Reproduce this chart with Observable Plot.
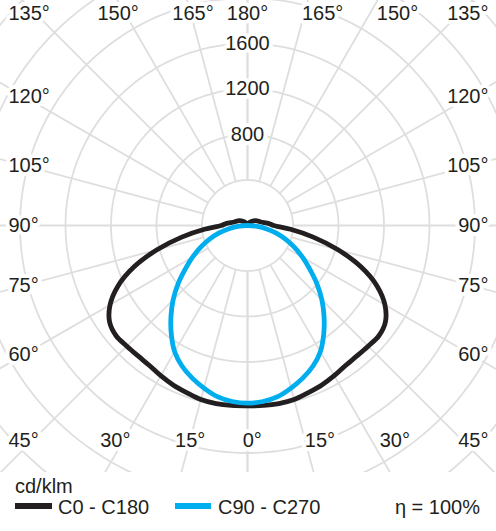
<!DOCTYPE html>
<html><head><meta charset="utf-8">
<script src="https://cdn.jsdelivr.net/npm/d3@7"></script>
<script src="https://cdn.jsdelivr.net/npm/@observablehq/plot@0.6"></script>
<style>
html,body{margin:0;padding:0;background:#fff;}
#wrap{width:496px;}
#wrap svg{display:block;}
</style></head><body><div id="wrap"></div>
<script>
// ---- data (cd/klm), gamma measured from nadir ----
const gammaBlack = [0,5,10,15,20,25,30,35,40,45,50,55,60,65,70,75,80,85,90,95,105,120,135,150,165,180];
const c0c180     = [1585,1588,1590,1584,1564,1547,1525,1503,1497,1500,1508,1480,1395,1256,1061,824,587,380,230,190,120,85,50,25,10,5];
const gammaBlue  = [0,5,10,15,20,25,30,35,40,45,50,55,60,65,70,75,80,85,90];
const c90c270    = [1562,1553,1528,1480,1426,1363,1281,1168,1047,925,797,668,558,456,358,262,172,86,0];
const ringValues = [400,800,1200,1600,2000,2400,2800,3200];
const ringLabels = [800,1200,1600];
const angleLabels = [0,15,30,45,60,75,90,105,120,135,150,165,180];
const seriesNames = ["C0 - C180","C90 - C270"];
const unitLabel = "cd/klm";
const efficiencyLabel = "η = 100%";

// ---- layout ----
const W = 496, H = 472, CX = 247, CY = 225;
const K = 0.11375; // px per cd/klm
const rad = d => d * Math.PI / 180;
const P = (v, g, side) => ({x: side * v * Math.sin(rad(g)), y: -v * Math.cos(rad(g))});

// curves (right half C0 / C90, left half C180 / C270)
function closedPath(gs, vs, name) {
  const pts = gs.map((g, i) => ({...P(vs[i], g, 1), s: name}));
  for (let i = gs.length - 2; i >= 1; i--) pts.push({...P(vs[i], gs[i], -1), s: name});
  return pts;
}
const blackPts = closedPath(gammaBlack, c0c180, seriesNames[0]);
const bluePts = closedPath(gammaBlue, c90c270, seriesNames[1]);

// grid
const ringPts = ringValues.flatMap(v => d3.range(0, 360, 2).map(a => ({...P(v, a, 1), ring: v})));
const spokes = angleLabels.flatMap(g => [1, -1].map(side => {
  const a = P(ringValues[0], g, side), b = P(4500, g, side);
  return {x1: a.x, y1: a.y, x2: b.x, y2: b.y};
}));

// angle labels placed along their rays at the border
const fs = 20;
const angleTexts = [];
for (const g of angleLabels) {
  for (const side of (g === 0 || g === 180 ? [1] : [-1, 1])) {
    const s = Math.sin(rad(g)), c = Math.cos(rad(g));
    const w = (String(g).length * 0.556 + 0.4) * fs;
    let px, py, anchor;
    if (g === 45 || g === 135 || (g > 45 && g < 135)) {
      py = (g === 45) ? 440 : (g === 135) ? 13 : CY + 224 * c / s;
      anchor = side < 0 ? "start" : "end";
      px = side < 0 ? 8 : 488;
    } else {
      py = c > 0 ? 440 : 13;
      px = CX + side * 242 * (s / Math.abs(c)) + (g === 180 ? 0 : w / 4);
      anchor = "middle";
    }
    angleTexts.push({x: (px - CX) / K, y: (CY - py) / K, text: g + "°", anchor});
  }
}

const font = "'Liberation Sans', Arial, Helvetica, sans-serif";
const ink = "#231f20";
const textOpts = {fontSize: fs, fontFamily: font, fill: ink, stroke: "white", strokeWidth: 8};

const chart = Plot.plot({
  width: W, height: H,
  margin: 0,
  x: {domain: [(0 - CX) / K, (W - CX) / K], axis: null},
  y: {domain: [(CY - H) / K, CY / K], axis: null},
  marks: [
    Plot.line(ringPts, {x: "x", y: "y", z: "ring", curve: "linear-closed", stroke: "#dedede", strokeWidth: 1.8, clip: "frame"}),
    Plot.link(spokes, {x1: "x1", y1: "y1", x2: "x2", y2: "y2", stroke: "#dedede", strokeWidth: 1.8, clip: "frame"}),
    Plot.text(ringLabels, {x: () => 0, y: d => d, text: d => String(d), ...textOpts}),
    Plot.text(angleTexts.filter(d => d.anchor === "middle"), {x: "x", y: "y", text: "text", textAnchor: "middle", ...textOpts}),
    Plot.text(angleTexts.filter(d => d.anchor === "start"), {x: "x", y: "y", text: "text", textAnchor: "start", ...textOpts}),
    Plot.text(angleTexts.filter(d => d.anchor === "end"), {x: "x", y: "y", text: "text", textAnchor: "end", ...textOpts}),
    Plot.line(blackPts, {x: "x", y: "y", curve: "catmull-rom-closed", stroke: ink, strokeWidth: 4.8}),
    Plot.line(bluePts, {x: "x", y: "y", curve: "catmull-rom-closed", stroke: "#00aeef", strokeWidth: 4.8})
  ]
});
const wrap = document.getElementById("wrap");
wrap.appendChild(chart);

// legend below the chart
const ns = "http://www.w3.org/2000/svg";
const leg = document.createElementNS(ns, "svg");
leg.setAttribute("width", W); leg.setAttribute("height", 59);
leg.setAttribute("font-family", font); leg.setAttribute("font-size", fs); leg.setAttribute("fill", ink);
function t(x, y, s, anchor) {
  const e = document.createElementNS(ns, "text");
  e.setAttribute("x", x); e.setAttribute("y", y); e.textContent = s;
  if (anchor) e.setAttribute("text-anchor", anchor);
  leg.appendChild(e);
}
function r(x, y, w, h, c) {
  const e = document.createElementNS(ns, "rect");
  e.setAttribute("x", x); e.setAttribute("y", y); e.setAttribute("width", w); e.setAttribute("height", h); e.setAttribute("fill", c);
  leg.appendChild(e);
}
t(15, 21, unitLabel);
r(15, 31, 37, 6, ink); t(58, 42, seriesNames[0]);
r(175, 31, 36, 6, "#00aeef"); t(218, 42, seriesNames[1]);
t(480, 42, efficiencyLabel, "end");
wrap.appendChild(leg);
</script></body></html>
